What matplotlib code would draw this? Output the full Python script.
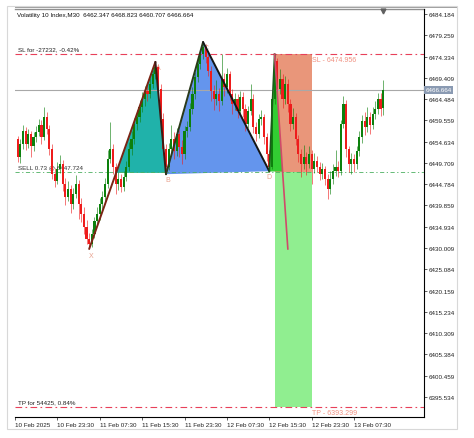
import matplotlib
matplotlib.use("Agg")
import matplotlib.pyplot as plt
from matplotlib.patches import Rectangle, Polygon
from matplotlib.lines import Line2D

plt.rcParams['font.family'] = ['Liberation Sans', 'DejaVu Sans']

# ---- candle data (M30 bars, index 1..139) ----
opens = [6455.3, 6451.1, 6454.1, 6457.1, 6454.1, 6456.4, 6453.6, 6455.7, 6456.9, 6458.5,
         6455.7, 6460.3, 6457.6, 6452.9, 6447.2, 6445.5, 6448.3, 6449.5, 6444.8, 6441.8,
         6443.7, 6440.2, 6442.5, 6444.8, 6440.2, 6437.9, 6434.9, 6432.1, 6430.9, 6433.3,
         6436.3, 6437.9, 6440.2, 6441.8, 6444.8, 6450.6, 6452.9, 6448.8, 6444.8, 6446.0,
         6444.1, 6446.5, 6448.8, 6452.9, 6455.3, 6458.7, 6460.3, 6462.7, 6464.5, 6466.4,
         6465.7, 6468.0, 6470.3, 6471.9, 6466.8, 6459.9, 6452.9, 6448.8, 6452.9, 6455.3,
         6452.5, 6456.4, 6453.4, 6451.8, 6457.1, 6458.0, 6462.2, 6465.7, 6469.6, 6472.6,
         6474.9, 6476.6, 6474.2, 6471.0, 6466.4, 6464.5, 6465.7, 6464.1, 6469.1, 6467.3,
         6470.3, 6465.7, 6463.4, 6464.5, 6461.7, 6465.0, 6462.2, 6458.7, 6461.7, 6464.5,
         6458.0, 6456.4, 6459.9, 6460.3, 6455.7, 6451.8, 6448.8, 6464.5, 6473.3, 6466.8,
         6469.1, 6464.5, 6468.0, 6463.4, 6458.7, 6460.3, 6455.3, 6451.8, 6449.5, 6451.1,
         6449.5, 6451.8, 6448.3, 6450.2, 6448.8, 6447.2, 6448.3, 6446.0, 6443.7, 6446.0,
         6447.8, 6448.8, 6447.8, 6458.7, 6463.4, 6452.9, 6449.5, 6450.6, 6449.5, 6452.5,
         6455.7, 6459.4, 6458.0, 6460.3, 6458.5, 6461.0, 6462.2, 6464.5, 6462.347]
highs = [6456.0, 6455.2, 6458.6, 6458.0, 6457.5, 6457.2, 6456.8, 6458.2, 6459.8, 6459.6,
         6462.7, 6461.5, 6458.4, 6454.0, 6448.5, 6450.0, 6451.6, 6450.3, 6446.2, 6445.6,
         6444.5, 6444.0, 6446.9, 6445.7, 6441.5, 6439.6, 6436.5, 6433.6, 6434.4, 6437.1,
         6439.4, 6441.5, 6443.3, 6446.2, 6452.8, 6459.2, 6454.1, 6449.6, 6447.6, 6447.1,
         6447.8, 6450.2, 6454.5, 6457.0, 6460.1, 6461.9, 6464.3, 6466.2, 6467.5, 6467.9,
         6469.4, 6471.2, 6473.1, 6472.6, 6468.0, 6461.2, 6454.0, 6454.3, 6458.4, 6456.8,
         6457.9, 6457.3, 6455.0, 6458.2, 6459.5, 6463.6, 6467.4, 6470.8, 6474.0, 6476.1,
         6477.7, 6477.2, 6475.0, 6472.2, 6467.8, 6468.9, 6467.0, 6474.9, 6470.6, 6471.8,
         6471.0, 6466.8, 6466.0, 6465.6, 6466.3, 6466.1, 6463.4, 6463.0, 6468.0, 6465.6,
         6459.3, 6461.1, 6462.0, 6461.0, 6456.6, 6452.7, 6465.5, 6474.9, 6474.0, 6471.5,
         6470.2, 6469.9, 6469.1, 6464.6, 6462.5, 6461.2, 6456.2, 6452.9, 6453.9, 6452.3,
         6453.6, 6452.8, 6451.9, 6451.4, 6450.0, 6449.6, 6449.1, 6447.2, 6447.8, 6449.5,
         6452.6, 6450.1, 6459.6, 6465.2, 6464.2, 6453.7, 6452.0, 6451.7, 6453.7, 6457.0,
         6460.7, 6461.6, 6462.7, 6461.5, 6462.6, 6464.1, 6465.8, 6465.9, 6468.823]
lows = [6450.0, 6449.8, 6453.0, 6452.8, 6453.2, 6451.0, 6452.5, 6454.6, 6456.0, 6454.2,
        6455.0, 6456.3, 6451.5, 6446.0, 6444.2, 6444.8, 6447.4, 6443.1, 6440.0, 6440.9,
        6438.2, 6439.0, 6441.6, 6436.8, 6436.0, 6433.2, 6431.0, 6429.8, 6430.2, 6432.4,
        6435.2, 6436.6, 6439.0, 6440.5, 6443.9, 6449.8, 6447.2, 6442.5, 6443.5, 6443.0,
        6443.3, 6445.6, 6447.9, 6451.6, 6454.2, 6457.4, 6459.1, 6461.5, 6463.0, 6464.1,
        6464.8, 6467.0, 6469.2, 6465.4, 6458.6, 6451.5, 6447.1, 6448.0, 6451.8, 6450.6,
        6451.4, 6451.2, 6449.4, 6450.7, 6455.8, 6457.2, 6461.0, 6464.6, 6468.5, 6471.4,
        6473.8, 6472.9, 6469.8, 6464.0, 6462.0, 6463.1, 6461.8, 6463.2, 6465.2, 6466.0,
        6464.3, 6461.1, 6462.0, 6460.1, 6460.8, 6460.4, 6457.0, 6457.9, 6460.9, 6456.6,
        6454.9, 6455.5, 6458.6, 6454.2, 6450.1, 6447.6, 6448.2, 6463.4, 6465.1, 6465.6,
        6462.5, 6463.3, 6461.6, 6457.0, 6457.5, 6453.8, 6450.0, 6446.5, 6448.2, 6447.0,
        6448.6, 6444.9, 6447.3, 6447.5, 6445.8, 6446.1, 6444.6, 6441.4, 6442.5, 6444.9,
        6446.8, 6446.5, 6447.0, 6457.7, 6451.0, 6447.6, 6447.2, 6447.6, 6448.2, 6451.4,
        6454.3, 6456.1, 6456.9, 6456.3, 6457.5, 6459.8, 6461.0, 6460.6, 6460.707]
closes = [6451.1, 6454.1, 6457.1, 6454.1, 6456.4, 6453.6, 6455.7, 6456.9, 6458.5, 6455.7,
          6460.3, 6457.6, 6452.9, 6447.2, 6445.5, 6448.3, 6449.5, 6444.8, 6441.8, 6443.7,
          6440.2, 6442.5, 6444.8, 6440.2, 6437.9, 6434.9, 6432.1, 6430.9, 6433.3, 6436.3,
          6437.9, 6440.2, 6441.8, 6444.8, 6450.6, 6452.9, 6448.8, 6444.8, 6446.0, 6444.1,
          6446.5, 6448.8, 6452.9, 6455.3, 6458.7, 6460.3, 6462.7, 6464.5, 6466.4, 6465.7,
          6468.0, 6470.3, 6471.9, 6466.8, 6459.9, 6452.9, 6448.8, 6452.9, 6455.3, 6452.5,
          6456.4, 6453.4, 6451.8, 6457.1, 6458.0, 6462.2, 6465.7, 6469.6, 6472.6, 6474.9,
          6476.6, 6474.2, 6471.0, 6466.4, 6464.5, 6465.7, 6464.1, 6469.1, 6467.3, 6470.3,
          6465.7, 6463.4, 6464.5, 6461.7, 6465.0, 6462.2, 6458.7, 6461.7, 6464.5, 6458.0,
          6456.4, 6459.9, 6460.3, 6455.7, 6451.8, 6448.8, 6464.5, 6473.3, 6466.8, 6469.1,
          6464.5, 6468.0, 6463.4, 6458.7, 6460.3, 6455.3, 6451.8, 6449.5, 6451.1, 6449.5,
          6451.8, 6448.3, 6450.2, 6448.8, 6447.2, 6448.3, 6446.0, 6443.7, 6446.0, 6447.8,
          6448.8, 6447.8, 6458.7, 6463.4, 6452.9, 6449.5, 6450.6, 6449.5, 6452.5, 6455.7,
          6459.4, 6458.0, 6460.3, 6458.5, 6461.0, 6462.2, 6464.5, 6462.3, 6466.664]
bars = list(range(1, len(closes) + 1))

# ---- harmonic pattern X A B C D ----
pat_names = ["X", "A", "B", "C", "D"]
pat_bar = [28, 53, 57, 71, 96]
pat_price = [6429.8, 6473.1, 6447.1, 6477.7, 6447.8]
teal_floor = 6447.4
# entry leg
leg_bar = [98, 103]
leg_price = [6474.9, 6429.8]

# ---- trade levels ----
sl_price = 6474.956
tp_price = 6393.299
entry_price = 6447.724
last_price = 6466.664
box_bars = [98, 112]

yticks = [6484.184, 6479.259, 6474.334, 6469.409, 6464.484, 6459.559, 6454.634,
          6449.709, 6444.784, 6439.859, 6434.934, 6430.009, 6425.084, 6420.159,
          6415.234, 6410.309, 6405.384, 6400.459, 6395.534]
xtick_bars = [0, 16, 32, 48, 64, 80, 96, 112, 128]
xtick_labels = ["10 Feb 2025", "10 Feb 23:30", "11 Feb 07:30", "11 Feb 15:30",
                "11 Feb 23:30", "12 Feb 07:30", "12 Feb 15:30", "12 Feb 23:30",
                "13 Feb 07:30"]

W, H = 474, 439
fig = plt.figure(figsize=(W / 100, H / 100), dpi=100)
fig.patch.set_facecolor("white")


def fx(px):
    return px / W


def fy(py):
    return 1 - py / H


# window frame
fig.add_artist(Rectangle((fx(7), fy(430)), fx(457) - fx(7), fy(7) - fy(430),
                         transform=fig.transFigure, fill=False, ec="#d8d8d8", lw=0.8))
fig.add_artist(Line2D([fx(15), fx(456)], [fy(7.5), fy(7.5)], transform=fig.transFigure,
                      color="#a0a0a0", lw=0.7))

ax = fig.add_axes([fx(15), fy(418), fx(424) - fx(15), fy(10) - fy(418)])
ax.set_xlim(0.6, 154.4)
ax.set_ylim(6390.89, 6485.35)

fs = 4.5

# pattern fills
k = (teal_floor - pat_price[0]) / (pat_price[1] - pat_price[0])
teal_left = pat_bar[0] + k * (pat_bar[1] - pat_bar[0])
ax.add_patch(Polygon([(teal_left, teal_floor), (pat_bar[1], pat_price[1]), (pat_bar[2], teal_floor)],
                     closed=True, fc="#20b2aa", ec="none", zorder=1))
ax.add_patch(Polygon([(pat_bar[2], pat_price[2]), (pat_bar[3], pat_price[3]), (pat_bar[4], pat_price[4])],
                     closed=True, fc="#6495ed", ec="none", zorder=1))

# trade boxes
ax.add_patch(Rectangle((box_bars[0], entry_price), box_bars[1] - box_bars[0], sl_price - entry_price,
                       fc="#e9967a", ec="none", zorder=1))
ax.add_patch(Rectangle((box_bars[0], tp_price), box_bars[1] - box_bars[0], entry_price - tp_price,
                       fc="#90ee90", ec="none", zorder=1))
k2 = (leg_price[0] - entry_price) / (leg_price[0] - leg_price[1])
leg_cross = leg_bar[0] + k2 * (leg_bar[1] - leg_bar[0])
ax.add_patch(Polygon([(pat_bar[4], entry_price), (leg_bar[0], leg_price[0]), (leg_cross, entry_price)],
                     closed=True, fc="#32cd32", ec="none", zorder=1.5))

# level lines
ax.axhline(last_price, color="#a8a8a8", lw=0.8, zorder=2)
ax.axhline(sl_price, color="#e8405a", lw=0.8, ls=(0, (6, 3, 1.5, 3)), zorder=2)
ax.axhline(tp_price, color="#e8405a", lw=0.8, ls=(0, (6, 3, 1.5, 3)), zorder=2)
ax.axhline(entry_price, color="#4cb060", lw=0.6, ls=(0, (5, 3, 1.5, 3)), zorder=2)

# candles
for b, o, h, l, c in zip(bars, opens, highs, lows, closes):
    col = "#0c800c" if c >= o else "#ee1c1c"
    ax.vlines(b, l, h, color=col, lw=0.7, alpha=0.6, zorder=3)
    ax.bar(b, max(abs(c - o), 0.15), bottom=min(o, c), width=0.8, color=col, lw=0, zorder=3.5)

# pattern lines
leg_cols = ["#7a2414", "#3a1a14", "#2a3a1a", "#151515"]
for j in range(4):
    ax.plot(pat_bar[j:j + 2], pat_price[j:j + 2], color=leg_cols[j], lw=1.4, zorder=4,
            solid_capstyle="round")
ax.plot([pat_bar[4], leg_bar[0]], [pat_price[4], leg_price[0]], color="#1c5a1c", lw=1.2, zorder=4)
ax.plot(leg_bar, leg_price, color="#d04a6a", lw=1.2, zorder=4)

# point labels
lab_col = "#e8a08c"
ax.text(pat_bar[0] + 0.7, pat_price[0] - 0.6, "X", color=lab_col, fontsize=fs + 0.5, ha="center", va="top")
ax.text(pat_bar[1] + 1.0, pat_price[1] - 0.5, "A", color=lab_col, fontsize=fs + 0.5, ha="center", va="top")
ax.text(pat_bar[2] + 0.5, pat_price[2] - 0.5, "B", color=lab_col, fontsize=fs + 0.5, ha="center", va="top")
ax.text(pat_bar[3] + 1.0, pat_price[3] - 0.5, "C", color=lab_col, fontsize=fs + 0.5, ha="center", va="top")
ax.text(pat_bar[4], pat_price[4] - 0.5, "D", color=lab_col, fontsize=fs + 0.5, ha="center", va="top")

# level texts
ax.text(112.3, sl_price - 0.6, "SL - 6474.956", color="#f09080", fontsize=fs + 0.5, va="top")
ax.text(112.3, tp_price - 0.6, "TP - 6393.299", color="#f09080", fontsize=fs + 0.5, va="top")
ax.text(1.0, sl_price + 0.6, "SL for -27232, -0.42%", color="#202020", fontsize=fs, va="bottom")
ax.text(1.0, entry_price + 0.4, "SELL 0.73 @ 6447.724", color="#303030", fontsize=fs, va="bottom")
ax.text(1.0, tp_price + 0.6, "TP for 54425, 0.84%", color="#202020", fontsize=fs, va="bottom")
ax.text(0.004, 0.993, "Volatility 10 Index,M30  6462.347 6468.823 6460.707 6466.664",
        transform=ax.transAxes, fontsize=fs, color="#101010", va="top", ha="left")

# shift marker
ax.plot([139], [6485.0], marker="v", ms=3.5, color="#606060", clip_on=False, zorder=5)

# axes styling
for s in ["left", "top"]:
    ax.spines[s].set_visible(False)
ax.spines["right"].set_linewidth(0.8)
ax.spines["bottom"].set_linewidth(0.8)
ax.axhline(6485.35, color="#909090", lw=1.0, clip_on=False)

ax.yaxis.tick_right()
ax.set_yticks(yticks)
ax.set_yticklabels(["%.3f" % v for v in yticks])
ax.tick_params(axis="y", length=2, width=0.5, pad=1, labelsize=fs, colors="#202020")
ax.set_xticks(xtick_bars)
ax.set_xticklabels(xtick_labels)
ax.tick_params(axis="x", length=2, width=0.5, pad=1.5, labelsize=fs, colors="#202020")
for t in ax.get_xticklabels():
    t.set_ha("left")

# last price tag
ax.text(1.004, (last_price - 6390.89) / (6485.35 - 6390.89), "6466.664", transform=ax.transAxes,
        fontsize=fs, color="white", va="center", ha="left",
        bbox=dict(boxstyle="square,pad=0.25", fc="#8a9ab2", ec="none"))

fig.savefig("out.png", dpi=100)
